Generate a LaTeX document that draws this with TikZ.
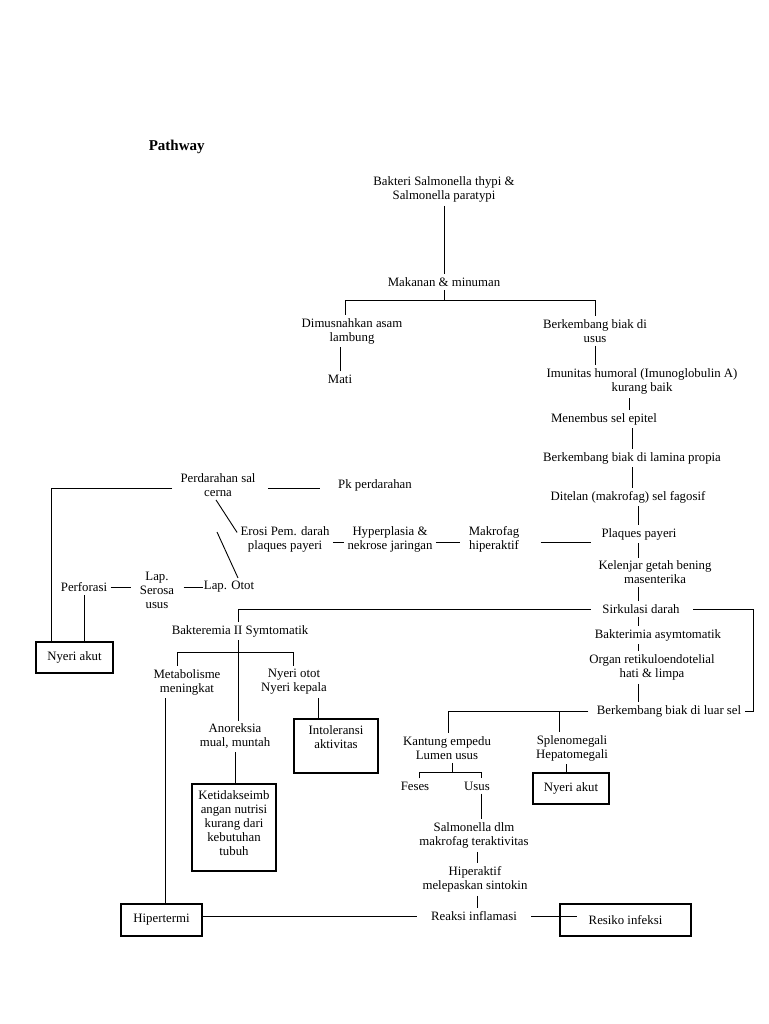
\documentclass[tikz,border=0pt]{standalone}
\usepackage{fontspec}
\setmainfont{Liberation Serif}
\begin{document}
\begin{tikzpicture}[x=1pt,y=-1pt,line width=0.9pt,font=\fontsize{12.8}{14}\selectfont,
    teks/.style={align=center,inner sep=3pt},
    kotak/.style={draw,line width=1.5pt,inner sep=0pt,minimum height=31}]
    \useasboundingbox (0,0) rectangle (768,1024); %halaman
    \node[font=\fontsize{15}{17}\selectfont\bfseries,anchor=west] (judul) at (145,147) {Pathway}; %judul
    \coordinate (tulang) at (638,0); %garis tengah kanan
    \coordinate (kanan) at (753,0);
    \coordinate (ujung) at (217,532);
    % jalur atas
    \node[teks] (bakteri) at (444,189.5) {Bakteri Salmonella thypi \&\\Salmonella paratypi};
    \node[teks] (makanan) at (444,282) {Makanan \& minuman};
    \node[teks] (dimusnah) at (352,331) {Dimusnahkan asam\\lambung};
    \node[teks] (mati) at (340,379) {Mati};
    \node[teks] (biakusus) at (595,331) {Berkembang biak di\\usus};
    \node[teks] (imunitas) at (642,381.5) {Imunitas humoral (Imunoglobulin A)\\kurang baik};
    \node[teks] (menembus) at (604,419) {Menembus sel epitel};
    \node[teks] (lamina) at (632,458) {Berkembang biak di lamina propia};
    \node[teks] (ditelan) at (628,497) {Ditelan (makrofag) sel fagosif};
    \node[teks] (plaques) at (639,534) {Plaques payeri};
    \node[teks] (kelenjar) at (655,572.5) {Kelenjar getah bening\\masenterika};
    \node[teks] (sirkulasi) at (641,609) {Sirkulasi darah};
    \node[teks] (asimtom) at (658,635) {Bakterimia asymtomatik};
    \node[teks] (organ) at (652,667.5) {Organ retikuloendotelial\\hati \& limpa};
    \node[teks] (luarsel) at (669,711) {Berkembang biak di luar sel};
    % jalur bawah kanan
    \node[teks] (kantung) at (447,748) {Kantung empedu\\Lumen usus};
    \node[teks] (feses) at (415,786) {Feses};
    \node[teks] (usus) at (477,786) {Usus};
    \node[teks] (spleno) at (572,748) {Splenomegali\\Hepatomegali};
    \node[kotak,minimum width=76] (nyeri2) at (571,788.5) {Nyeri akut};
    \node[teks] (salmo) at (474,835.5) {Salmonella dlm\\makrofag teraktivitas};
    \node[teks] (hiperaktif) at (475,879.5) {Hiperaktif\\melepaskan sintokin};
    \node[teks] (reaksi) at (474,916) {Reaksi inflamasi};
    \node[kotak,minimum width=131,minimum height=32] (resiko) at (625.5,920) {Resiko infeksi};
    \node[kotak,minimum width=81,minimum height=32] (hipertermi) at (161.5,920) {Hipertermi};
    % bakteremia
    \node[teks] (bakteremia) at (240,631) {Bakteremia II Symtomatik};
    \node[teks] (metabol) at (187,682) {Metabolisme\\meningkat};
    \node[teks] (nyeriotot) at (294,682) {Nyeri otot\\Nyeri kepala};
    \node[teks] (anoreksia) at (235,736.5) {Anoreksia\\mual, muntah};
    \node[kotak,anchor=north,minimum width=84,inner ysep=7pt] (ketidak) at (234,783) {\parbox[t][73pt][t]{80pt}{\centering Ketidakseimb\\angan nutrisi\\kurang dari\\kebutuhan\\tubuh}};
    \node[kotak,anchor=north,minimum width=84,inner ysep=7pt] (intol) at (336,718) {\parbox[t][40pt][t]{80pt}{\centering Intoleransi\\aktivitas}};
    % perdarahan
    \node[teks] (perdarahan) at (218,485) {Perdarahan sal\\cerna};
    \node[teks] (pk) at (375,485) {Pk perdarahan};
    \node[teks] (erosi) at (285,539.5) {Erosi Pem. darah\\plaques payeri};
    \node[teks] (hyper) at (390,539) {Hyperplasia \&\\nekrose jaringan};
    \node[teks] (makrofag) at (494,539) {Makrofag\\hiperaktif};
    \node[teks] (perforasi) at (84,587) {Perforasi};
    \node[teks] (serosa) at (157,590) {Lap.\\Serosa\\usus};
    \node[teks] (lapotot) at (229,587) {Lap. Otot};
    \node[kotak,minimum width=77] (nyeri1) at (74.5,657.5) {Nyeri akut};
    % garis
    \draw (bakteri) -- (makanan);
    \draw (makanan.south) -- ++(0,10) coordinate (cabang1);
    \draw ([xshift=-7]dimusnah.north) |- (cabang1) -| (biakusus.north); %cabang makanan
    \draw (mati.north) -- (mati.north |- dimusnah.south);
    \draw (biakusus.south) -- (biakusus.south |- imunitas.north);
    \draw ([xshift=25]menembus.north) -- ([xshift=25]menembus.north |- imunitas.south);
    \draw (lamina.north) -- (lamina.north |- menembus.south);
    \draw (lamina.south) -- (lamina.south |- ditelan.north);
    \draw (ditelan.south -| tulang) -- (plaques.north -| tulang);
    \draw (plaques.south -| tulang) -- (kelenjar.north -| tulang);
    \draw (kelenjar.south -| tulang) -- (sirkulasi.north -| tulang);
    \draw (sirkulasi.south -| tulang) -- (asimtom.north -| tulang);
    \draw (asimtom.south -| tulang) -- (organ.north -| tulang);
    \draw (organ.south -| tulang) -- (luarsel.north -| tulang);
    \draw ([xshift=-8]sirkulasi.west) -| ([xshift=-2]bakteremia.north);
    \draw ([xshift=10]sirkulasi.east) -| (kanan |- luarsel.east) -- (luarsel.east); %putaran kanan
    \draw ([xshift=-5]luarsel.west) -| ([xshift=1]kantung.north);
    \draw ([xshift=-13]spleno.north) -- ([xshift=-13]spleno.north |- luarsel.west);
    \draw ([xshift=5]kantung.south) -- ++(0,9) coordinate (cabang2);
    \draw ([xshift=4]feses.north) |- (cabang2) -| ([xshift=4]usus.north); %cabang usus
    \draw ([xshift=4]usus.south) -- ([xshift=4]usus.south |- salmo.north);
    \draw ([xshift=3]salmo.south) -- ([xshift=3]salmo.south |- hiperaktif.north);
    \draw ([xshift=2]hiperaktif.south) -- ([xshift=2]hiperaktif.south |- reaksi.north);
    \draw ([xshift=-6]spleno.south) -- ([xshift=-6]spleno.south |- nyeri2.north);
    \draw ([xshift=-11]reaksi.west) -- (reaksi.west -| hipertermi.east);
    \draw ([xshift=11]reaksi.east) -- ([xshift=18]reaksi.east -| resiko.west);
    \draw ([xshift=4]hipertermi.north) -- ([xshift=4]hipertermi.north |- metabol.south);
    \draw ([xshift=-2]bakteremia.south) -- ([xshift=-2]bakteremia.south |- anoreksia.north);
    \draw ([xshift=-10]metabol.north) -- ++(0,-13) -| ([xshift=-1]nyeriotot.north); %cabang bakteremia
    \draw ([xshift=24]nyeriotot.south) -- ([xshift=24]nyeriotot.south |- intol.north);
    \draw (anoreksia.south) -- (anoreksia.south |- ketidak.north);
    \draw ([xshift=-5,yshift=-3]perdarahan.west) -| ([xshift=-23]nyeri1.north);
    \draw ([xshift=9,yshift=-3]perdarahan.east) -- ([xshift=-15,yshift=-3]perdarahan.east -| pk.west);
    \draw ([xshift=-2]perdarahan.south) -- ([yshift=7]erosi.west);
    \draw ([xshift=9]lapotot.north) -- (ujung);
    \draw ([yshift=-3]erosi.east) -- ([yshift=-3]erosi.east -| hyper.west);
    \draw ([yshift=-3]hyper.east) -- ([xshift=-5,yshift=-3]hyper.east -| makrofag.west);
    \draw ([xshift=18,yshift=-3]makrofag.east) -- ([xshift=-7,yshift=-3]makrofag.east -| plaques.west);
    \draw (perforasi.east) -- ([xshift=-5]perforasi.east -| serosa.west);
    \draw ([xshift=6]serosa.east |- lapotot.west) -- ([xshift=3]lapotot.west);
    \draw (perforasi.south) -- (perforasi.south |- nyeri1.north);
  \end{tikzpicture}
\end{document}
